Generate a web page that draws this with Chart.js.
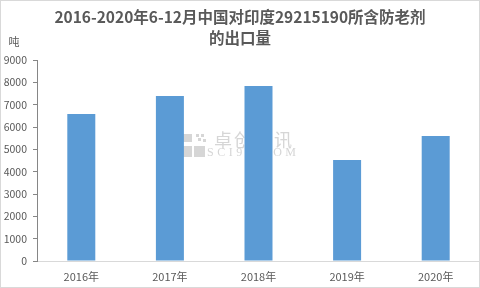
<!DOCTYPE html>
<html>
<head>
<meta charset="utf-8">
<script src="https://cdn.jsdelivr.net/npm/chart.js@4/dist/chart.umd.min.js"></script>
<style>
  html, body { margin: 0; padding: 0; background: #fff; }
  #wrap { width: 480px; height: 288px; }
</style>
</head>
<body>
<div id="wrap"><canvas id="exportChart" width="480" height="288"></canvas></div>
<script>
// === DATA ===
const years = ['2016年', '2017年', '2018年', '2019年', '2020年'];
const exportTons = [6580, 7390, 7840, 4520, 5600];
const yTicks = [0, 1000, 2000, 3000, 4000, 5000, 6000, 7000, 8000, 9000];
const titleLines = ['2016-2020年6-12月中国对印度29215190所含防老剂', '的出口量'];
const unitLabel = '吨';

const grey = '#595959';
const cjk = '"Noto Sans CJK SC", "Liberation Sans", sans-serif';

// background, border, title and unit text
const decor = {
  id: 'decor',
  beforeDraw(chart) {
    const c = chart.ctx;
    c.save();
    c.fillStyle = '#fff';
    c.fillRect(0, 0, chart.width, chart.height);
    c.strokeStyle = '#d9d9d9';
    c.lineWidth = 1;
    c.strokeRect(0.5, 0.5, chart.width - 1, chart.height - 1);

    c.fillStyle = grey;
    c.textAlign = 'center';
    c.textBaseline = 'middle';
    c.font = 'bold 15.5px ' + cjk;
    c.fillText(titleLines[0], 240, 17);
    c.fillText(titleLines[1], 240, 38);

    c.font = '11px ' + cjk;
    c.fillText(unitLabel, 14, 42);
    c.restore();
  },
  beforeDatasetsDraw(chart) {
    // faint watermark behind the bars
    const c = chart.ctx;
    c.save();
    c.fillStyle = '#d6d6d6';
    c.fillRect(183, 134, 9, 8);
    c.fillRect(183, 146, 9, 11);
    c.fillRect(194, 146, 11, 11);
    c.fillRect(196, 134, 3, 3);
    c.fillRect(201, 134, 3, 3);
    c.fillRect(198, 138, 3, 3);
    c.fillRect(203, 139, 3, 3);
    c.textBaseline = 'middle';
    c.textAlign = 'left';
    c.font = '18px ' + cjk;
    c.letterSpacing = '2px';
    c.fillText('卓创资讯', 214, 140);
    c.font = '12px "Liberation Serif", serif';
    c.letterSpacing = '3.5px';
    c.fillText('SCI99.COM', 207, 153);
    c.restore();
  }
};

// === CREATE CHART ===
const ctx = document.getElementById('exportChart').getContext('2d');
const chart = new Chart(ctx, {
  type: 'bar',
  data: {
    labels: years,
    datasets: [{
      label: '出口量',
      data: exportTons,
      backgroundColor: '#5b9bd5',
      barPercentage: 0.316,
      categoryPercentage: 1
    }]
  },
  options: {
    responsive: false,
    animation: false,
    layout: { padding: { top: 60, right: 0, bottom: 0, left: 0 } },
    plugins: {
      legend: { display: false },
      title: { display: false },
      tooltip: { enabled: false }
    },
    scales: {
      x: {
        grid: { display: false, drawTicks: false },
        border: { display: true, color: '#d9d9d9' },
        ticks: {
          color: grey,
          font: { family: cjk, size: 11 },
          padding: 9,
          maxRotation: 0
        },
        afterFit(scale) { scale.height = 27; }
      },
      y: {
        min: 0,
        max: 9000,
        afterBuildTicks(scale) {
          scale.ticks = yTicks.map(v => ({ value: v }));
        },
        grid: {
          drawOnChartArea: false,
          drawTicks: true,
          tickLength: 4,
          color: '#868686'
        },
        border: { display: true, color: '#868686' },
        ticks: {
          color: grey,
          font: { family: cjk, size: 10.5 },
          padding: 6,
          callback: v => String(v)
        },
        afterFit(scale) { scale.width = 37; }
      }
    }
  },
  plugins: [decor]
});
</script>
</body>
</html>
